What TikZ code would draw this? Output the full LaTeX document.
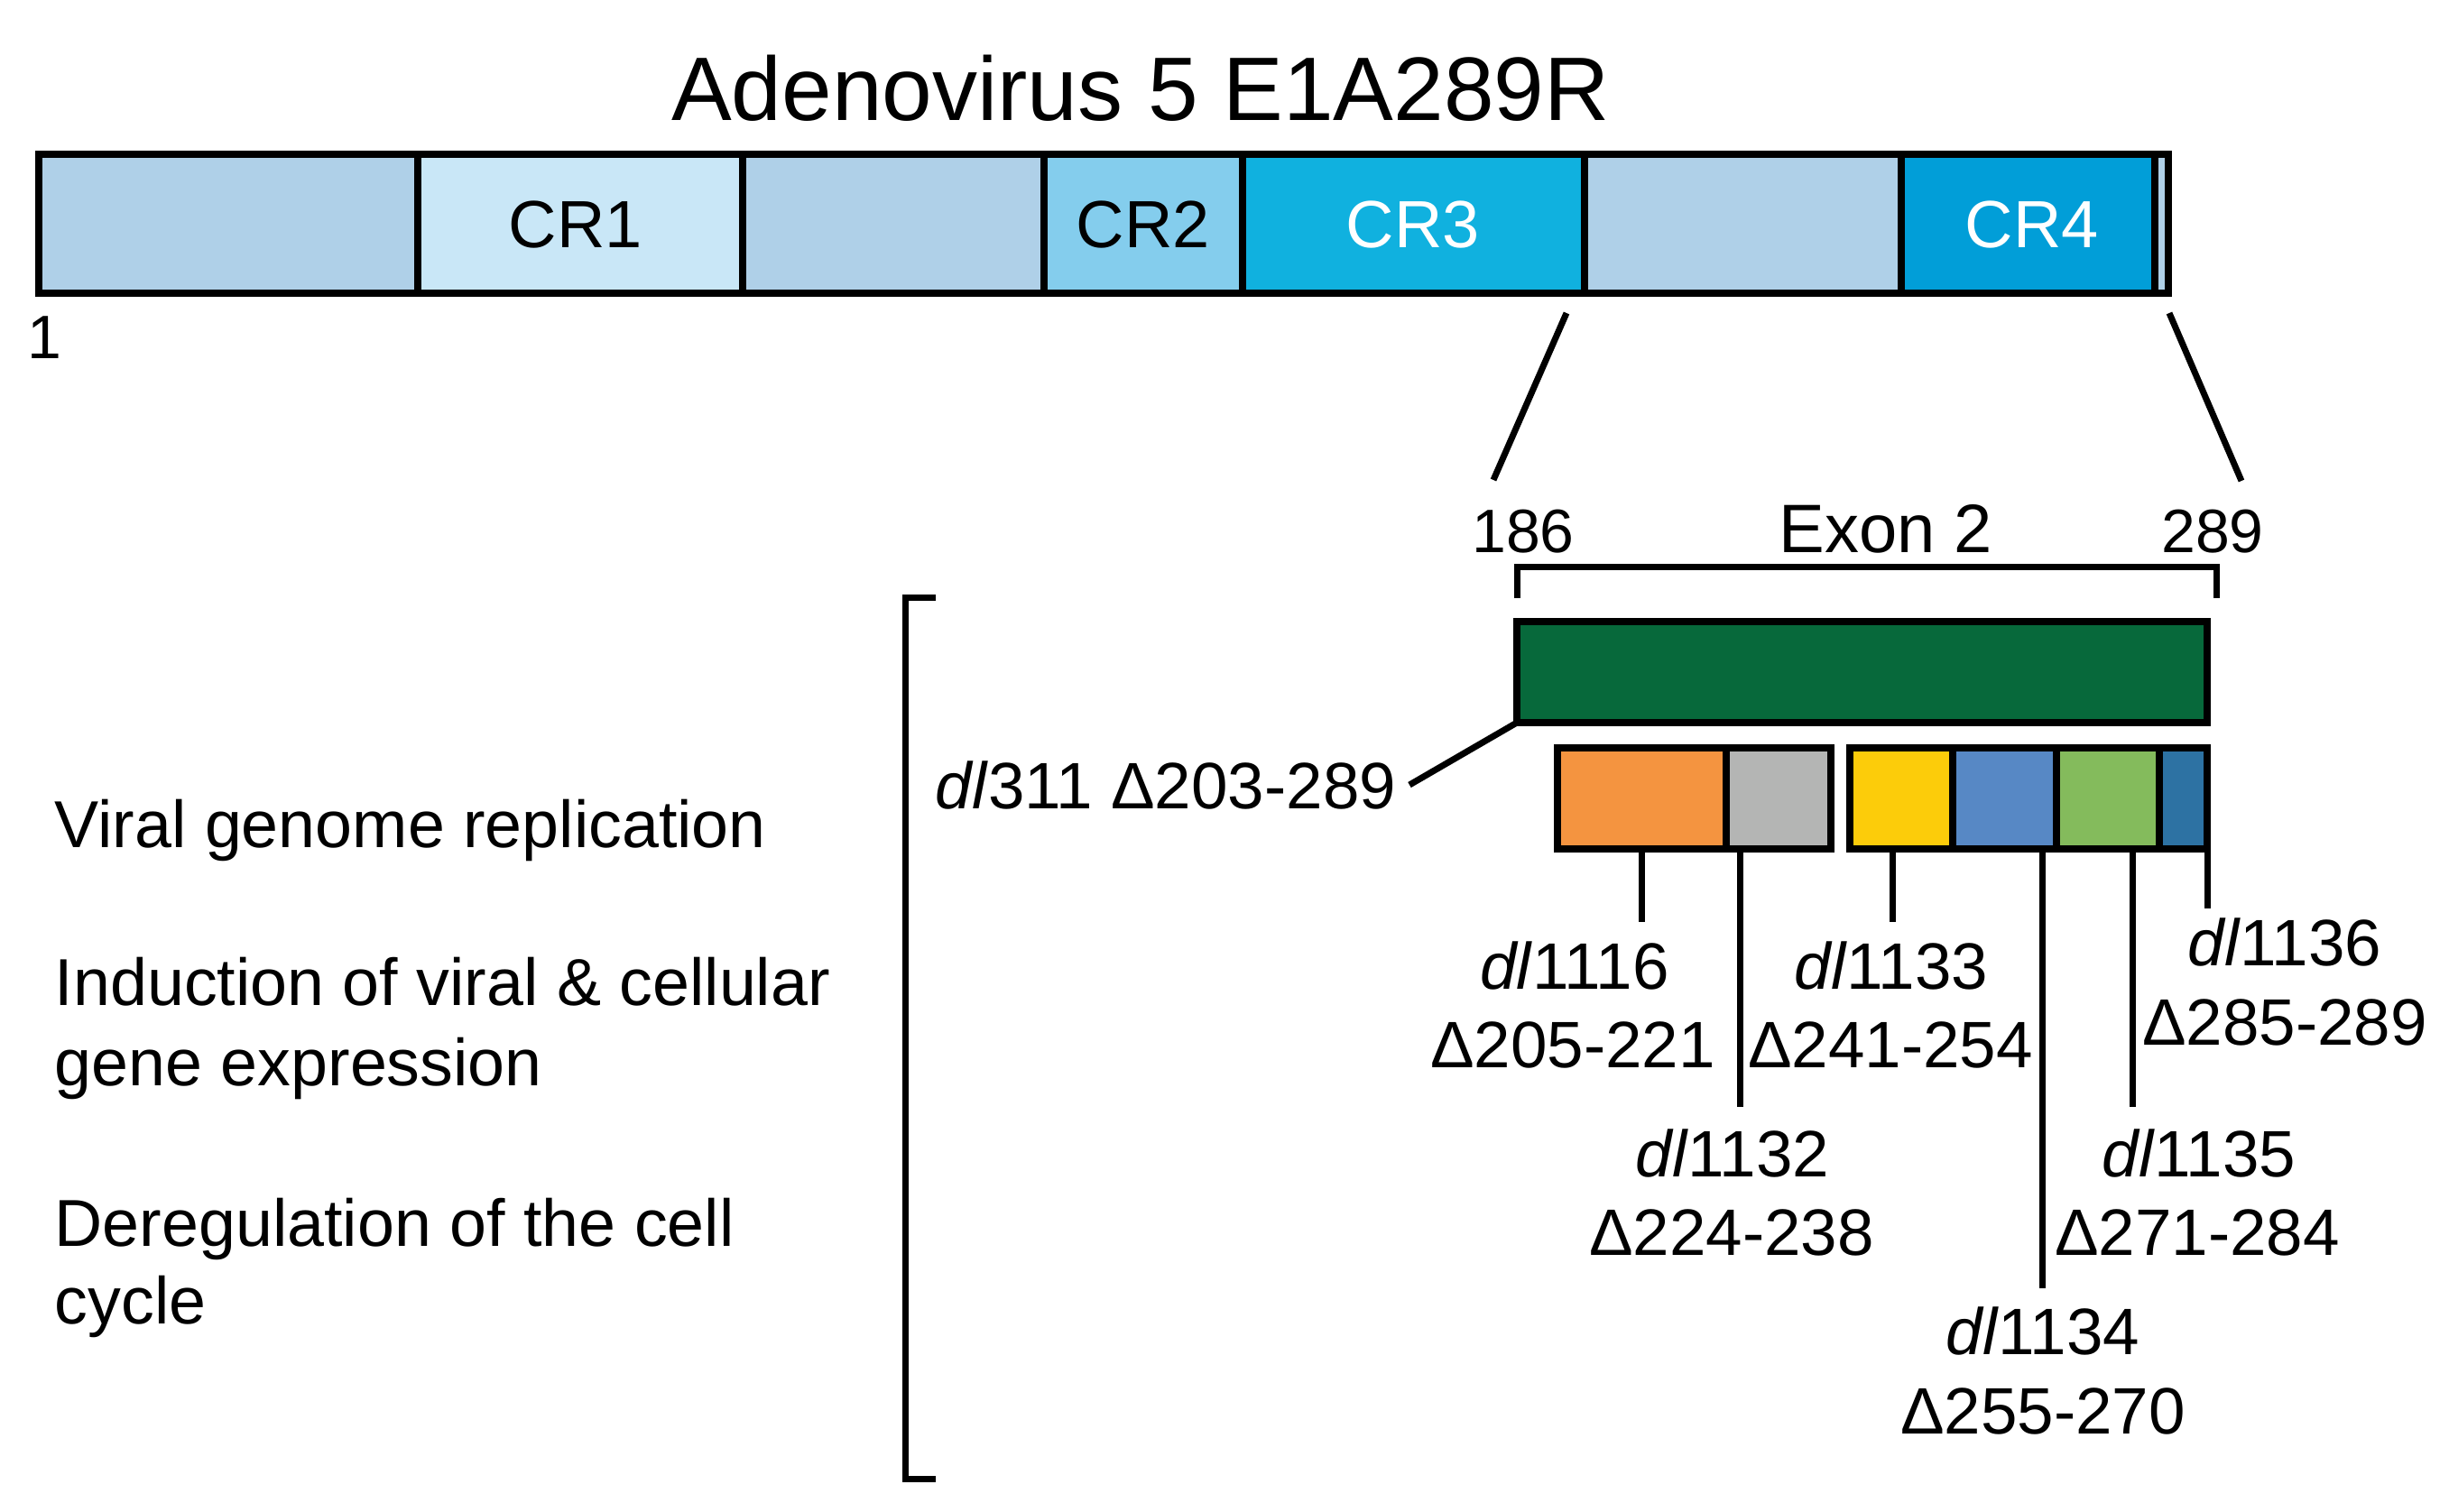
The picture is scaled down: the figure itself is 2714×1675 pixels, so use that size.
\documentclass[tikz,border=0pt]{standalone}
\usepackage{fontspec}
\setmainfont{Liberation Sans}
\definecolor{cNon}{HTML}{AFD0E8}
\definecolor{cCRa}{HTML}{C9E7F7}
\definecolor{cCRb}{HTML}{84CDED}
\definecolor{cCRc}{HTML}{10B1DF}
\definecolor{cCRd}{HTML}{019ED8}
\definecolor{cExon}{HTML}{07693B}
\definecolor{cOrange}{HTML}{F49440}
\definecolor{cGray}{HTML}{B4B5B4}
\definecolor{cYellow}{HTML}{FCCC0A}
\definecolor{cBlue}{HTML}{5788C5}
\definecolor{cLGreen}{HTML}{84BB5C}
\definecolor{cDBlue}{HTML}{2D72A3}
\begin{document}
\begin{tikzpicture}[x=0.25pt,y=-0.25pt,
  border/.style={draw=black,line width=2pt},
  conn/.style={draw=black,line width=1.75pt},
  titletxt/.style={anchor=base,inner sep=0pt,font=\fontsize{25}{30}\selectfont},
  crtxt/.style={anchor=base,inner sep=0pt,font=\fontsize{18.5}{22}\selectfont},
  numtxt/.style={anchor=base,inner sep=0pt,font=\fontsize{17}{20}\selectfont},
  exontxt/.style={anchor=base,inner sep=0pt,font=\fontsize{19}{23}\selectfont},
  lbl/.style={anchor=base,inner sep=0pt,font=\fontsize{18.2}{21}\selectfont},
  sidetxt/.style={anchor=base west,inner sep=0pt,font=\fontsize{18.4}{22}\selectfont}]
\useasboundingbox (0,0) rectangle (2714,1675);
\fill[white] (0,0) rectangle (2714,1675);

% title
\node[titletxt] (title) at (1264,133) {Adenovirus 5 E1A289R};

% main bar segments
\fill[cNon] (43,171) rectangle (463,325);
\fill[cCRa] (463,171) rectangle (823,325);
\fill[cNon] (823,171) rectangle (1157,325);
\fill[cCRb] (1157,171) rectangle (1377,325);
\fill[cCRc] (1377,171) rectangle (1756,325);
\fill[cNon] (1756,171) rectangle (2107,325);
\fill[cCRd] (2107,171) rectangle (2388,325);
\fill[cNon] (2388,171) rectangle (2403,325);
\draw[border] (43,171) rectangle (2403,325);
\foreach \xx in {463,823,1157,1377,1756,2107,2388}
  \draw[border] (\xx,171) -- (\xx,325);
\node[crtxt] (cr1) at (638,274) {CR1};
\node[crtxt] (cr2) at (1267,274) {CR2};
\node[crtxt,text=white] (cr3) at (1566,274) {CR3};
\node[crtxt,text=white] (cr4) at (2252,274) {CR4};
\node[numtxt,anchor=base west] (n1) at (30,397) {1};

% zoom lines
\coordinate (zla) at (1736,347);
\coordinate (zlb) at (1655,532);
\coordinate (zra) at (2404,347);
\coordinate (zrb) at (2484,533);
\draw[conn] (zla) -- (zlb);
\draw[conn] (zra) -- (zrb);

% exon 2 labels and bracket
\node[numtxt] (n186) at (1688,612) {186};
\node[numtxt] (n289) at (2452,612) {289};
\node[exontxt] (exon) at (2090,612) {Exon 2};
\draw[conn,line join=miter] (1681,663) -- (1681,628) -- (2456,628) -- (2456,663);

% exon bar
\fill[cExon] (1681,689) rectangle (2446,801);
\draw[border] (1681,689) rectangle (2446,801);
\coordinate (exbl) at (1681,801);
\coordinate (dl311end) at (1562,870);
\draw[conn] (exbl) -- (dl311end);
\node[lbl,anchor=base east] (dl311) at (1548,896) {\textit{dl}311 Δ203-289};

% deletion boxes
\fill[cOrange] (1726,829) rectangle (1913,941);
\fill[cGray] (1913,829) rectangle (2029,941);
\draw[border] (1726,829) rectangle (2029,941);
\draw[border] (1913,829) -- (1913,941);
\fill[cYellow] (2050,829) rectangle (2164,941);
\fill[cBlue] (2164,829) rectangle (2279,941);
\fill[cLGreen] (2279,829) rectangle (2393,941);
\fill[cDBlue] (2393,829) rectangle (2446,941);
\draw[border] (2050,829) rectangle (2446,941);
\foreach \xx in {2164,2279,2393}
  \draw[border] (\xx,829) -- (\xx,941);

% ticks
\coordinate (t1a) at (1819,941); \coordinate (t1b) at (1819,1022);
\coordinate (t2a) at (1928,941); \coordinate (t2b) at (1928,1227);
\coordinate (t3a) at (2097,941); \coordinate (t3b) at (2097,1022);
\coordinate (t4a) at (2263,941); \coordinate (t4b) at (2263,1428);
\coordinate (t5a) at (2363,941); \coordinate (t5b) at (2363,1227);
\coordinate (t6a) at (2446,941); \coordinate (t6b) at (2446,1007);
\draw[conn] (t1a) -- (t1b);
\draw[conn] (t2a) -- (t2b);
\draw[conn] (t3a) -- (t3b);
\draw[conn] (t4a) -- (t4b);
\draw[conn] (t5a) -- (t5b);
\draw[conn] (t6a) -- (t6b);

% deletion labels
\node[lbl] (l1116a) at (1745,1096) {\textit{dl}1116};
\node[lbl] (l1116b) at (1743,1183) {Δ205-221};
\node[lbl] (l1133a) at (2096,1096) {\textit{dl}1133};
\node[lbl] (l1133b) at (2095,1183) {Δ241-254};
\node[lbl] (l1136a) at (2532,1070) {\textit{dl}1136};
\node[lbl] (l1136b) at (2532,1158) {Δ285-289};
\node[lbl] (l1132a) at (1920,1304) {\textit{dl}1132};
\node[lbl] (l1132b) at (1919,1391) {Δ224-238};
\node[lbl] (l1135a) at (2437,1304) {\textit{dl}1135};
\node[lbl] (l1135b) at (2435,1391) {Δ271-284};
\node[lbl] (l1134a) at (2264,1501) {\textit{dl}1134};
\node[lbl] (l1134b) at (2264,1589) {Δ255-270};

% left bracket
\draw[conn,line join=miter] (1037,662) -- (1003,662) -- (1003,1639) -- (1037,1639);

% functions
\node[sidetxt] (f1) at (60,939) {Viral genome replication};
\node[sidetxt] (f2a) at (60,1114) {Induction of viral \& cellular};
\node[sidetxt] (f2b) at (60,1203) {gene expression};
\node[sidetxt] (f3a) at (60,1381) {Deregulation of the cell};
\node[sidetxt] (f3b) at (60,1467) {cycle};
\end{tikzpicture}
\end{document}
